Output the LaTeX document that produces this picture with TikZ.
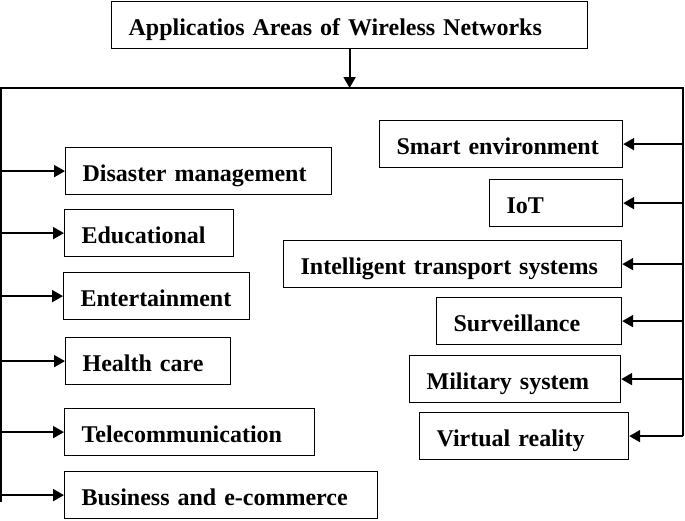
\documentclass[tikz,border=0pt]{standalone}
\usepackage{fontspec}
\setmainfont{Liberation Serif}
\usetikzlibrary{arrows.meta}

\begin{document}
\begin{tikzpicture}[x=1pt, y=-1pt,
    area/.style={draw, line width=1.2pt, anchor=north west, inner xsep=17pt, inner ysep=0pt,
        text height=20pt, text depth=0pt,
        minimum height=47pt, align=left, font=\fontsize{24}{28}\selectfont\bfseries},
    link/.style={line width=2pt, -{Triangle[length=11pt,width=12pt]}},
    frame/.style={line width=2pt}]
    \useasboundingbox (0,0) rectangle (685,520);

    % Title
    \node[area, text width=442pt] (title) at (111,1) {Applicatios Areas of Wireless Networks};

    % Frame around the application areas
    \coordinate (tl) at (1,88);
    \coordinate (tr) at (683,88);
    \coordinate (lb) at (1,502);
    \coordinate (rb) at (683,436);
    \draw[frame] (lb) -- (tl) -- (tr) -- (rb);
    \draw[link] (title.south) -- (title.south |- tl);

    % Left column
    \node[area, text width=232pt] (disaster) at (65,147) {Disaster management};
    \node[area, text width=135pt] (educ) at (64,209) {Educational};
    \node[area, text width=152pt] (enter) at (63,272) {Entertainment};
    \node[area, text width=131pt] (health) at (65,337) {Health care};
    \node[area, text width=216pt] (telecom) at (64,408) {Telecommunication};
    \node[area, text width=279pt] (business) at (64,471) {Business and e-commerce};

    % Right column
    \node[area, text width=209pt] (smart) at (379,120) {Smart environment};
    \node[area, text width=99pt] (iot) at (489,179) {IoT};
    \node[area, text width=304pt] (its) at (283,240) {Intelligent transport systems};
    \node[area, text width=151pt] (surv) at (436,297) {Surveillance};
    \node[area, text width=177pt] (military) at (409,355) {Military system};
    \node[area, text width=175pt] (vr) at (419,412) {Virtual reality};

    % Arrows from the frame to the boxes
    \foreach \n in {disaster,educ,enter,health,telecom,business}
        \draw[link] (\n.west -| tl) -- (\n.west);
    \foreach \n in {smart,iot,its,surv,military,vr}
        \draw[link] (\n.east -| tr) -- (\n.east);
\end{tikzpicture}
\end{document}
